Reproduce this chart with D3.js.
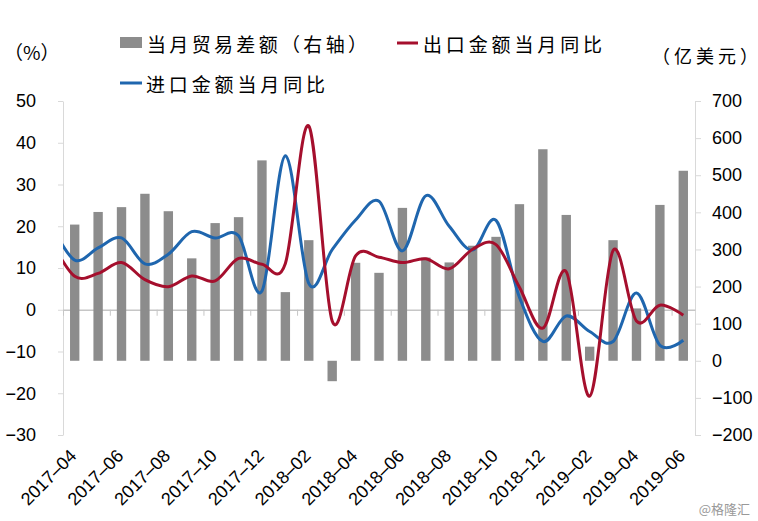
<!DOCTYPE html>
<html>
<head>
<meta charset="utf-8">
<script src="https://cdn.jsdelivr.net/npm/d3@7/dist/d3.min.js"></script>
<style>
  html, body { margin: 0; padding: 0; background: #fff; }
  svg { display: block; }
</style>
</head>
<body>
<svg id="chart" width="758" height="521"></svg>
<script>
// ---------- data ----------
const months = ["2017-04","2017-05","2017-06","2017-07","2017-08","2017-09","2017-10","2017-11","2017-12",
  "2018-01","2018-02","2018-03","2018-04","2018-05","2018-06","2018-07","2018-08","2018-09","2018-10",
  "2018-11","2018-12","2019-01","2019-02","2019-03","2019-04","2019-05","2019-06"];
// trade balance, 亿美元 (right axis)
const tradeBalance = [367, 401, 414, 450, 403, 276, 371, 387, 540,
  185, 325, -55, 264, 237, 412, 278, 265, 310, 334,
  422, 570, 393, 38, 325, 141, 420, 512];
// line series start one month earlier (2017-03); that point lies outside the plot and is clipped
const lineMonths = ["2017-03"].concat(months);
const exportYoY = [16.4, 8.0, 8.7, 11.3, 7.2, 5.5, 8.1, 6.9, 12.3, 10.9,
  11.1, 44.0, -2.7, 12.9, 12.6, 11.3, 12.2, 9.8, 14.5, 15.6,
  5.4, -4.4, 9.1, -20.7, 14.2, -2.7, 1.1, -1.3];
const importYoY = [20.3, 11.9, 14.8, 17.2, 11.0, 13.3, 18.7, 17.2, 17.7, 4.5,
  36.9, 6.3, 14.4, 21.5, 26.0, 14.1, 27.3, 20.0, 14.3, 21.4,
  3.0, -7.6, -1.5, -5.2, -7.6, 4.0, -8.5, -7.3];
const leftTicks = [-30, -20, -10, 0, 10, 20, 30, 40, 50];
const rightTicks = [-200, -100, 0, 100, 200, 300, 400, 500, 600, 700];
const xLabels = months.filter((d, i) => i % 2 === 0);

const legendBar = "当月贸易差额（右轴）";
const legendExport = "出口金额当月同比";
const legendImport = "进口金额当月同比";
const leftUnit = "（%）";
const rightUnit = "（亿美元）";
const watermark = "@格隆汇";

// ---------- styles ----------
const C_BAR = "#8c8c8c", C_EXP = "#a50f2d", C_IMP = "#1f66ae", C_AXIS = "#d9d9d9", C_ZERO = "#c6c6c6";
const NUM_FONT = "'Liberation Sans', Arial, sans-serif";
const CJK_FONT = "'Noto Sans CJK SC', sans-serif";

const svg = d3.select("#chart");
const L = 63, R = 695, T = 101, B = 435;

const x = d3.scaleBand().domain(months).range([L, R]).paddingInner(0.6).paddingOuter(0.3);
const xIdx = d3.scaleLinear().domain([-0.5, months.length - 0.5]).range([L, R]);
const yL = d3.scaleLinear().domain([-30, 50]).range([B, T]);
const yR = d3.scaleLinear().domain([-200, 700]).range([B, T]);

// clip
svg.append("defs").append("clipPath").attr("id", "plotclip")
  .append("rect").attr("x", L).attr("y", 0).attr("width", R - L).attr("height", 521);

// left axis
const gL = svg.append("g").attr("transform", `translate(${L},0)`)
  .call(d3.axisLeft(yL).tickValues(leftTicks).tickSize(5).tickPadding(22).tickSizeOuter(0));
gL.select(".domain").attr("stroke", C_AXIS);
gL.selectAll(".tick line").attr("stroke", C_AXIS);
gL.selectAll(".tick text").attr("font-family", NUM_FONT).attr("font-size", 18).attr("fill", "#000");

// right axis
const gR = svg.append("g").attr("transform", `translate(${R},0)`)
  .call(d3.axisRight(yR).tickValues(rightTicks).tickSize(6).tickPadding(11).tickSizeOuter(0));
gR.select(".domain").attr("stroke", C_AXIS);
gR.selectAll(".tick line").attr("stroke", C_AXIS);
gR.selectAll(".tick text").attr("font-family", NUM_FONT).attr("font-size", 18).attr("fill", "#000");

// zero line with category ticks every two months
const boundaryTicks = d3.range(-0.5, months.length, 2);
const gZ = svg.append("g").attr("transform", `translate(0,${yL(0)})`)
  .call(d3.axisBottom(xIdx).tickValues(boundaryTicks).tickSize(6).tickFormat("").tickSizeOuter(0));
gZ.select(".domain").attr("stroke", C_ZERO).attr("stroke-width", 1.5);
gZ.selectAll(".tick line").attr("stroke", C_ZERO);

// bars
svg.append("g").selectAll("rect").data(months).join("rect")
  .attr("x", d => x(d))
  .attr("width", x.bandwidth())
  .attr("y", (d, i) => Math.min(yR(tradeBalance[i]), yR(0)))
  .attr("height", (d, i) => Math.abs(yR(tradeBalance[i]) - yR(0)))
  .attr("fill", C_BAR);

// lines
const lineGen = d3.line()
  .x((d, i) => xIdx(months.indexOf(lineMonths[i])))
  .y(d => yL(d))
  .curve(d3.curveCardinal.tension(0));
const gLines = svg.append("g").attr("clip-path", "url(#plotclip)");
gLines.append("path").datum(importYoY).attr("d", lineGen)
  .attr("fill", "none").attr("stroke", C_IMP).attr("stroke-width", 3).attr("stroke-linejoin", "round");
gLines.append("path").datum(exportYoY).attr("d", lineGen)
  .attr("fill", "none").attr("stroke", C_EXP).attr("stroke-width", 3).attr("stroke-linejoin", "round");

// x labels
svg.append("g").selectAll("text").data(xLabels).join("text")
  .attr("transform", d => `translate(${x(d) + x.bandwidth() / 2 + 3},457) rotate(-45)`)
  .attr("text-anchor", "end")
  .attr("font-family", NUM_FONT).attr("font-size", 18).attr("fill", "#000")
  .text(d => d.replace("-", "–"));

// units
svg.append("text").attr("x", 4).attr("y", 51).attr("dominant-baseline", "central")
  .attr("font-family", CJK_FONT).attr("font-size", 19).attr("fill", "#000")
  .text(leftUnit);
svg.append("text").attr("x", 652).attr("y", 55).attr("dominant-baseline", "central")
  .attr("font-family", CJK_FONT).attr("font-size", 18).attr("fill", "#000")
  .attr("textLength", 106).attr("lengthAdjust", "spacing").text(rightUnit);

// legend
const leg = svg.append("g");
leg.append("rect").attr("x", 120).attr("y", 37).attr("width", 22).attr("height", 11).attr("fill", C_BAR);
leg.append("text").attr("x", 147).attr("y", 43).attr("dominant-baseline", "central")
  .attr("font-family", CJK_FONT).attr("font-size", 19).attr("fill", "#000")
  .attr("textLength", 220).attr("lengthAdjust", "spacing").text(legendBar);
leg.append("line").attr("x1", 397).attr("x2", 418).attr("y1", 43).attr("y2", 43)
  .attr("stroke", C_EXP).attr("stroke-width", 3);
leg.append("text").attr("x", 423).attr("y", 43).attr("dominant-baseline", "central")
  .attr("font-family", CJK_FONT).attr("font-size", 19).attr("fill", "#000")
  .attr("textLength", 179).attr("lengthAdjust", "spacing").text(legendExport);
leg.append("line").attr("x1", 120).attr("x2", 142).attr("y1", 83).attr("y2", 83)
  .attr("stroke", C_IMP).attr("stroke-width", 3);
leg.append("text").attr("x", 146).attr("y", 83).attr("dominant-baseline", "central")
  .attr("font-family", CJK_FONT).attr("font-size", 19).attr("fill", "#000")
  .attr("textLength", 179).attr("lengthAdjust", "spacing").text(legendImport);

// watermark
svg.append("text").attr("x", 750).attr("y", 508).attr("text-anchor", "end").attr("dominant-baseline", "central")
  .attr("font-family", CJK_FONT).attr("font-size", 13).attr("fill", "#999").text(watermark);
</script>
</body>
</html>
